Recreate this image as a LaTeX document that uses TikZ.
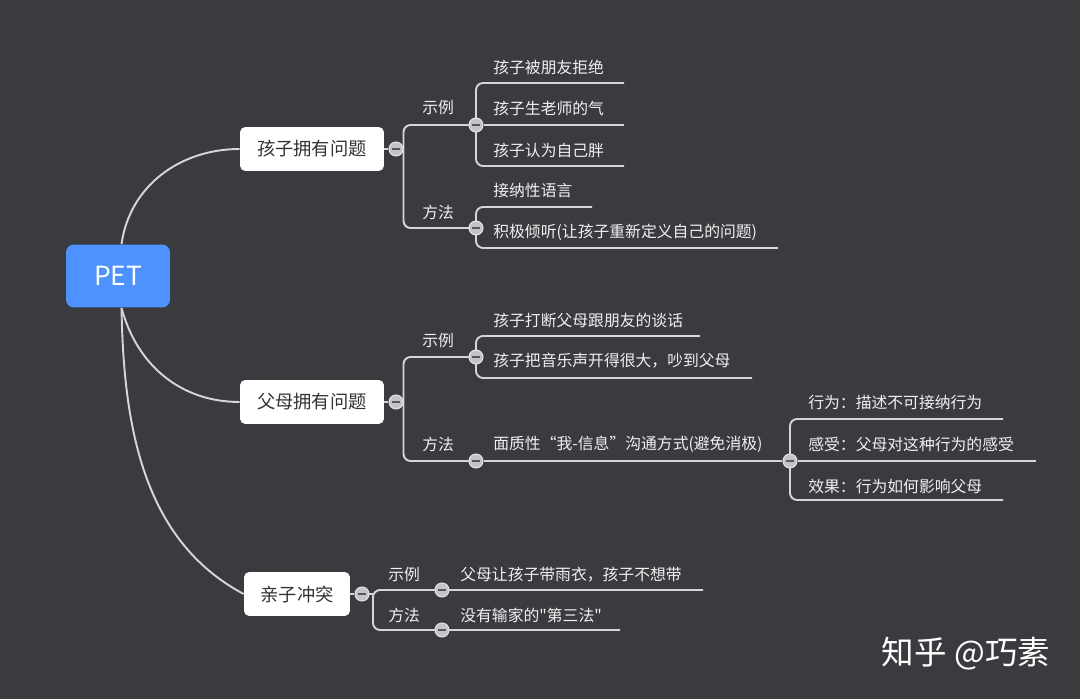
\documentclass[tikz,border=0pt]{standalone}
\usepackage{fontspec}
\setmainfont{Noto Sans CJK SC}[Ligatures=TeXOff]
\usetikzlibrary{positioning,backgrounds}
\definecolor{bgdark}{RGB}{58,59,63}
\definecolor{petblue}{RGB}{77,146,254}
\definecolor{linegray}{RGB}{214,214,216}
\definecolor{foldgray}{RGB}{196,196,200}

\begin{document}
\begin{tikzpicture}[x=0.02cm, y=-0.02cm,
    root/.style={rectangle, rounded corners=4.5pt, fill=petblue, text=white,
                 minimum width=2.08cm, minimum height=1.26cm, font=\fontsize{15}{18}\selectfont},
    topic/.style={rectangle, rounded corners=3pt, fill=white, text=black!80,
                  minimum height=0.88cm, font=\fontsize{10.4}{12}\selectfont},
    fold/.style={circle, fill=foldgray, draw=white!90!black, line width=0.6pt,
                 inner sep=0pt, minimum size=0.28cm,
                 path picture={\draw[black!65, line width=1.1pt]
                   ([xshift=-2.4pt]path picture bounding box.center) --
                   ([xshift=2.4pt]path picture bounding box.center);}},
    lbl/.style={anchor=west, inner sep=0pt, text=white!94!black, font=\fontsize{9}{11}\selectfont},
    leaf/.style={lbl},
    link/.style={linegray, line width=1.1pt},
    branch/.style={link, rounded corners=4pt},
    wmark/.style={text=white, font=\fontsize{18.5}{22}\selectfont}
]
    % Root and the three main topics
    \node[root] (pet) at (118,276) {PET};
    \node[topic, minimum width=2.88cm] (kid) at (312,149) {孩子拥有问题};
    \node[topic, minimum width=2.88cm] (par) at (312,402) {父母拥有问题};
    \node[topic, minimum width=2.12cm] (con) at (297,594) {亲子冲突};

    % Fold markers
    \node[fold] (kidf) at (396,149) {};
    \node[fold] (kidex) at (476,125) {};
    \node[fold] (kidme) at (476,228) {};
    \node[fold] (parf) at (396,402) {};
    \node[fold] (parex) at (476,357) {};
    \node[fold] (parme) at (476,461) {};
    \node[fold] (parmsg) at (790,461) {};
    \node[fold] (conf) at (362,594) {};
    \node[fold] (conex) at (442,590) {};
    \node[fold] (conme) at (442,630) {};

    % Line ends
    \coordinate (kidex1) at (624,83);
    \coordinate (kidex2) at (624,125);
    \coordinate (kidex3) at (624,166);
    \coordinate (kidme1) at (592,207);
    \coordinate (kidme2) at (778,248);
    \coordinate (parex1) at (700,336);
    \coordinate (parex2) at (752,378);
    \coordinate (parmsg1) at (1003,419);
    \coordinate (parmsg2) at (1036,461);
    \coordinate (parmsg3) at (1003,500);
    \coordinate (conex1) at (703,590);
    \coordinate (conme1) at (620,630);
    \coordinate (conspine) at (373,594);
    \coordinate (conmid) at (373,610);

    % Branch labels
    \node[lbl] (kidexl) at (422,108) {示例};
    \node[lbl] (kidmel) at (422,212) {方法};
    \node[lbl] (parexl) at (422,341) {示例};
    \node[lbl] (parmel) at (422,444) {方法};
    \node[lbl] (conexl) at (388,575) {示例};
    \node[lbl] (conmel) at (388,615) {方法};

    % Leaves
    \node[leaf] (kidex1l) at (493,67) {孩子被朋友拒绝};
    \node[leaf] (kidex2l) at (493,108) {孩子生老师的气};
    \node[leaf] (kidex3l) at (493,150) {孩子认为自己胖};
    \node[leaf] (kidme1l) at (493,190) {接纳性语言};
    \node[leaf] (kidme2l) at (493,232) {积极倾听(让孩子重新定义自己的问题)};
    \node[leaf] (parex1l) at (493,320) {孩子打断父母跟朋友的谈话};
    \node[leaf] (parex2l) at (493,361) {孩子把音乐声开得很大，吵到父母};
    \node[leaf] (parmel2) at (493,444) {面质性“我-信息”沟通方式(避免消极)};
    \node[leaf] (parmsg1l) at (808,403) {行为：描述不可接纳行为};
    \node[leaf] (parmsg2l) at (808,444) {感受：父母对这种行为的感受};
    \node[leaf] (parmsg3l) at (808,486) {效果：行为如何影响父母};
    \node[leaf] (conex1l) at (460,575) {父母让孩子带雨衣，孩子不想带};
    \node[leaf] (conme1l) at (460,615) {没有输家的"第三法"};

    % Watermark
    \node[wmark] (zhihu) at (966,654) {知乎 @巧素};

    \begin{pgfonlayer}{background}
    \fill[bgdark] (0,0) rectangle (1080,699);

    % Root to topics
    \draw[link] ([xshift=2pt]pet.north) to[out=82, in=180] (kid.west);
    \draw[link] ([xshift=2pt]pet.south) to[out=-75, in=180] (par.west);
    \draw[link] ([xshift=2pt]pet.south) to[out=-89, in=152, looseness=0.95] (con.west);

    % First topic
    \draw[link] (kid.east) -- (kidf);
    \draw[branch] (kidex.center) -| (kidf.east) |- (kidme.center);
    \draw[branch] (kidex1) -| (kidex.center) |- (kidex3);
    \draw[link] (kidex) -- (kidex2);
    \draw[branch] (kidme1) -| (kidme.center) |- (kidme2);

    % Second topic
    \draw[link] (par.east) -- (parf);
    \draw[branch] (parex.center) -| (parf.east) |- (parme.center);
    \draw[branch] (parex1) -| (parex.center) |- (parex2);
    \draw[link] (parme) -- (parmsg);
    \draw[branch] (parmsg1) -| (parmsg.center) |- (parmsg3);
    \draw[link] (parmsg) -- (parmsg2);

    % Third topic
    \draw[link] (con.east) -- (conf);
    \draw[link] (conf.center) -- (conspine);
    \draw[branch] (conex1) -| (conmid) |- (conme1);
    \end{pgfonlayer}
\end{tikzpicture}
\end{document}
